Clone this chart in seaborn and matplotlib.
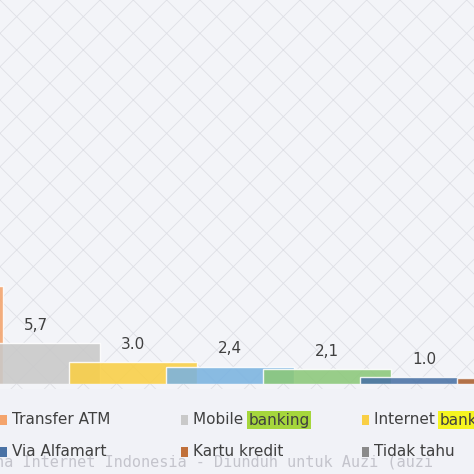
import matplotlib
matplotlib.use("Agg")
import matplotlib.pyplot as plt
import seaborn as sns
import pandas as pd
from matplotlib.patches import Rectangle

categories = ["Transfer ATM", "Mobile banking", "Internet banking", "SMS banking",
              "Setor tunai", "Via Alfamart", "Kartu kredit"]
values = [13.5, 5.7, 3.0, 2.4, 2.1, 1.0, 0.8]
value_labels = ["", "5,7", "3.0", "2,4", "2,1", "1.0", ""]
colors = ["#f4a46c", "#c9c9c9", "#f9cf45", "#7ab3e0", "#8cc87a", "#4a72a5", "#c0703a"]

sns.set_theme(style="white")
plt.rcParams['font.family'] = ['DejaVu Sans']
fig = plt.figure(figsize=(4.74, 4.74), dpi=100)
fig.patch.set_facecolor("#f1f2f7")
bg = fig.add_axes([0, 0, 1, 1]); bg.set_axis_off()
plt.rcParams['hatch.linewidth'] = 0.6
bg.add_patch(Rectangle((0, 0.18), 1, 0.82, facecolor="#f3f4f8", edgecolor="#dfe0e6", hatch="x", lw=0, transform=bg.transAxes))

ax = fig.add_axes([0, 90/474, 1, 384/474])
ax.patch.set_alpha(0)
df = pd.DataFrame({"cat": categories, "val": values})
sns.barplot(data=df, x="cat", y="val", hue="cat", palette=colors, width=1.31,
            legend=False, ax=ax, alpha=0.88, saturation=1)
ax.set_xlim(61/97, 535/97)
ax.set_ylim(0, 384/7.25)
ax.set_axis_off()
for i, (v, lab) in enumerate(zip(values, value_labels)):
    if lab:
        ax.text(i, v + 1.4, lab, ha="center", va="bottom", fontsize=11, color="#404040")

legend = [("Transfer ATM", "#f4a46c", 0, 420), ("Mobile banking", "#c9c9c9", 181, 420),
          ("Internet banking", "#f9cf45", 362, 420), ("Via Alfamart", "#4a72a5", 0, 452),
          ("Kartu kredit", "#c0703a", 181, 452), ("Tidak tahu", "#8a8a8a", 362, 452)]
for lab, c, px, py in legend:
    bg.add_patch(Rectangle((px / 474, 1 - (py + 5) / 474), 7 / 474, 10 / 474,
                           facecolor=c, lw=0, transform=bg.transAxes))
    words = lab.split(" ")
    if lab in ("Mobile banking", "Internet banking"):
        t = bg.text((px + 12) / 474, 1 - py / 474, words[0] + " ", fontsize=11, color="#404040",
                    va="center", transform=bg.transAxes)
        fig.canvas.draw()
        bb = t.get_window_extent()
        hl = "#a5d63c" if words[0] == "Mobile" else "#f5f520"
        bg.text(bb.x1 / 474, 1 - py / 474, words[1], fontsize=11, color="#404040", va="center",
                transform=bg.transAxes, bbox=dict(facecolor=hl, edgecolor="none", pad=1))
    else:
        bg.text((px + 12) / 474, 1 - py / 474, lab, fontsize=11, color="#404040",
                va="center", transform=bg.transAxes)
bg.text(-0.01, 1 - 462 / 474, "na Internet Indonesia - Diunduh untuk Auzi (auzi",
        family="DejaVu Sans Mono", fontsize=11, color="#c4c4cc", va="center", transform=bg.transAxes,
        zorder=0)
fig.savefig("out.png", dpi=100)
